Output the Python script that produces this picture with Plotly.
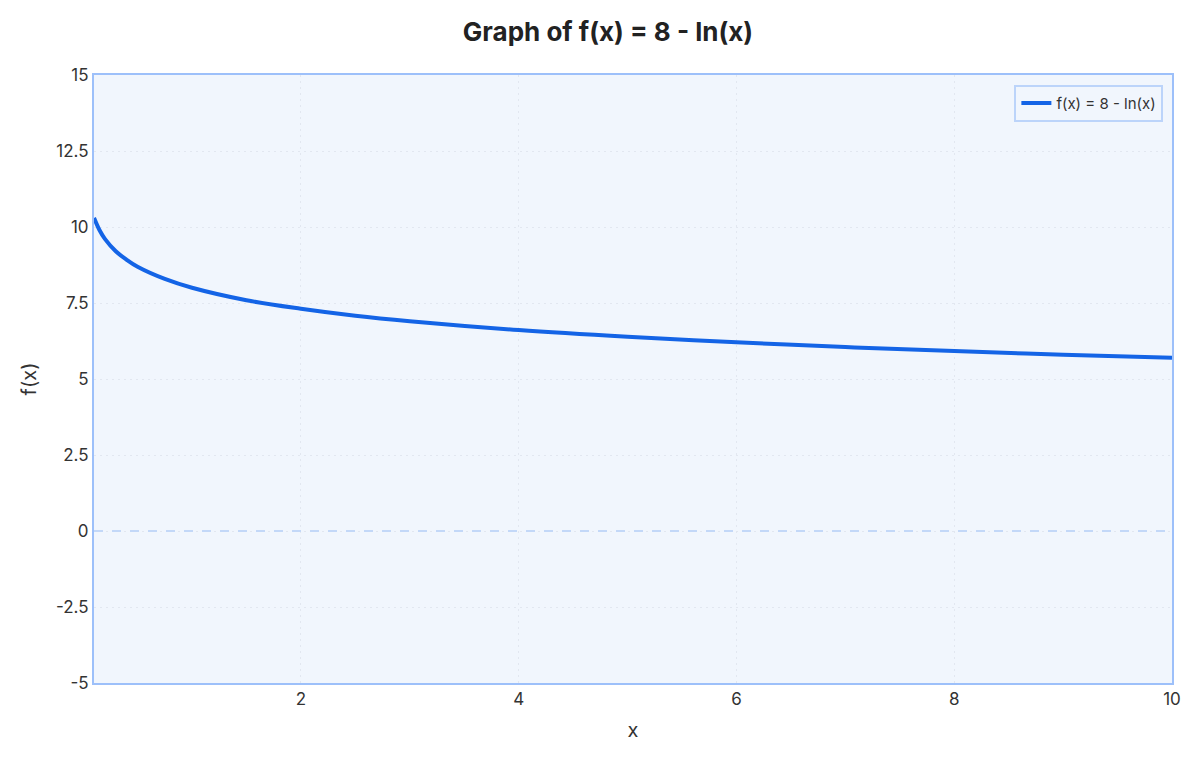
import plotly.graph_objects as go

# points
x_vals = [0.1, 0.15, 0.2, 0.3, 0.4, 0.5, 0.75, 1.0, 1.5, 2.0, 2.5, 3.0, 4.0,
          5.0, 6.0, 7.0, 8.0, 9.0, 10.0]
y_vals = [10.3, 9.9, 9.61, 9.2, 8.92, 8.69, 8.29, 8.0, 7.59, 7.31, 7.08, 6.9,
          6.61, 6.39, 6.21, 6.05, 5.92, 5.8, 5.7]

x_ticks = [2, 4, 6, 8, 10]
y_ticks = [-5, -2.5, 0, 2.5, 5, 7.5, 10, 12.5, 15]
y_labels = ["-5", "-2.5", "0", "2.5", "5", "7.5", "10", "12.5", "15"]

fig = go.Figure()

fig.add_trace(go.Scatter(x=x_vals, y=y_vals,
                         mode='lines',
                         line=dict(color='#1464e6', width=4, shape='spline'),
                         name='f(x) = 8 - ln(x)'))

fig.update_layout(
    width=1200, height=760,
    title=dict(text='<b>Graph of f(x) = 8 - ln(x)</b>', x=0.5, y=0.98,
               xanchor='center', yanchor='top',
               font=dict(size=26, color='#222222')),
    font=dict(family='Inter, Lato, sans-serif', size=17, color='#333333'),
    paper_bgcolor='white',
    plot_bgcolor='#f1f6fd',
    margin=dict(l=86, r=36, t=67, b=85),
    showlegend=True,
    legend=dict(x=0.992, y=0.984, xanchor='right', yanchor='top',
                bgcolor='#f1f6fd', bordercolor='#bcd4fa', borderwidth=2,
                font=dict(size=15)),
)

fig.update_xaxes(range=[0.1, 10], tickvals=x_ticks,
                 title=dict(text='x', standoff=15),
                 showgrid=True, gridcolor='#e2e7f0', griddash='2px,4px', gridwidth=1,
                 showline=True, linecolor='#9dc0fa', linewidth=2, mirror=True,
                 zeroline=False, ticks='')

fig.update_yaxes(range=[-5, 15], tickvals=y_ticks, ticktext=y_labels,
                 title=dict(text='f(x)', standoff=14),
                 showgrid=True, gridcolor='#e2e7f0', griddash='2px,4px', gridwidth=1,
                 showline=True, linecolor='#9dc0fa', linewidth=2, mirror=True,
                 zeroline=False, ticks='')

# dashed line at y = 0
fig.add_hline(y=0, line=dict(color='#c3d8f8', width=2, dash='dash'))

fig.write_html("out.html")
